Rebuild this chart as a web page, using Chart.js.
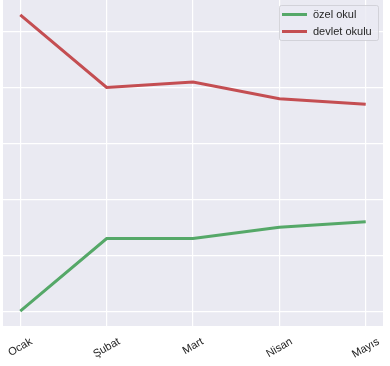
<!DOCTYPE html>
<html>
<head>
<meta charset="utf-8">
<script src="https://cdn.jsdelivr.net/npm/chart.js@4.4.0/dist/chart.umd.min.js"></script>
<style>
  html, body { margin: 0; padding: 0; background: #fff; }
  #wrap { width: 390px; height: 366px; }
</style>
</head>
<body>
<div id="wrap"><canvas id="c" width="390" height="366"></canvas></div>
<script>
// veriler
const months = ['Ocak', 'Şubat', 'Mart', 'Nisan', 'Mayıs'];
const ozelOkul = [10, 23, 23, 25, 26];
const devletOkulu = [63, 50, 51, 48, 47];
const seriesNames = ['özel okul', 'devlet okulu'];
const yTicks = [10, 20, 30, 40, 50, 60];

const textColor = '#262626';
const font = '"Liberation Sans", Arial, sans-serif';

function points(arr) {
  return arr.map((v, i) => ({ x: i, y: v }));
}

// arka plan
const bgPlugin = {
  id: 'bg',
  beforeDraw(chart) {
    const { ctx, chartArea: a } = chart;
    ctx.save();
    ctx.fillStyle = '#EAEAF2';
    ctx.fillRect(a.left, a.top, a.right - a.left, a.bottom - a.top);
    ctx.restore();
  }
};

// dondurulmus x etiketleri (ortali)
const xLabelPlugin = {
  id: 'xlabels',
  afterDraw(chart) {
    const { ctx, chartArea: a } = chart;
    const xs = chart.scales.x;
    const ang = 30 * Math.PI / 180;
    ctx.save();
    ctx.font = '11px ' + font;
    ctx.fillStyle = textColor;
    ctx.textAlign = 'center';
    ctx.textBaseline = 'middle';
    months.forEach((m, i) => {
      const w = ctx.measureText(m).width;
      const h = 11;
      const bh = w * Math.sin(ang) + h * Math.cos(ang);
      const x = xs.getPixelForValue(i);
      const y = a.bottom + 10 + bh / 2;
      ctx.save();
      ctx.translate(x, y);
      ctx.rotate(-ang);
      ctx.fillText(m, 0, 0);
      ctx.restore();
    });
    ctx.restore();
  }
};

// grafik icindeki lejant
const legendPlugin = {
  id: 'innerLegend',
  afterDraw(chart) {
    const { ctx, chartArea: a } = chart;
    const bx = a.right - 104, by = a.top + 5, bw = 99, bh = 35;
    ctx.save();
    ctx.fillStyle = 'rgba(234,234,242,0.8)';
    ctx.strokeStyle = 'rgba(204,204,210,0.8)';
    ctx.lineWidth = 1;
    ctx.beginPath();
    ctx.roundRect(bx + 0.5, by + 0.5, bw, bh, 2);
    ctx.fill();
    ctx.stroke();
    ctx.font = '11px ' + font;
    ctx.textBaseline = 'middle';
    chart.data.datasets.forEach((ds, i) => {
      const y = by + 9.5 + i * 17;
      ctx.strokeStyle = ds.borderColor;
      ctx.lineWidth = 3;
      ctx.beginPath();
      ctx.moveTo(bx + 3, y);
      ctx.lineTo(bx + 28, y);
      ctx.stroke();
      ctx.fillStyle = textColor;
      ctx.fillText(seriesNames[i], bx + 34, y);
    });
    ctx.restore();
  }
};

new Chart(document.getElementById('c'), {
  type: 'line',
  data: {
    datasets: [
      { label: seriesNames[0], data: points(ozelOkul), borderColor: '#55A868', borderWidth: 3, pointRadius: 0, tension: 0 },
      { label: seriesNames[1], data: points(devletOkulu), borderColor: '#C44E52', borderWidth: 3, pointRadius: 0, tension: 0 }
    ]
  },
  options: {
    responsive: false,
    animation: false,
    layout: { padding: { left: 3, right: 7, top: 0, bottom: 40 } },
    plugins: { legend: { display: false }, tooltip: { enabled: false } },
    scales: {
      x: {
        type: 'linear',
        min: -0.2,
        max: 4.2,
        afterBuildTicks: s => { s.ticks = months.map((m, i) => ({ value: i })); },
        ticks: { display: false },
        grid: { color: '#ffffff', lineWidth: 1.2, drawTicks: false },
        border: { display: false }
      },
      y: {
        min: 7.35,
        max: 65.65,
        afterBuildTicks: s => { s.ticks = yTicks.map(v => ({ value: v })); },
        ticks: { display: false },
        grid: { color: '#ffffff', lineWidth: 1.2, drawTicks: false },
        border: { display: false }
      }
    }
  },
  plugins: [bgPlugin, xLabelPlugin, legendPlugin]
});
</script>
</body>
</html>
